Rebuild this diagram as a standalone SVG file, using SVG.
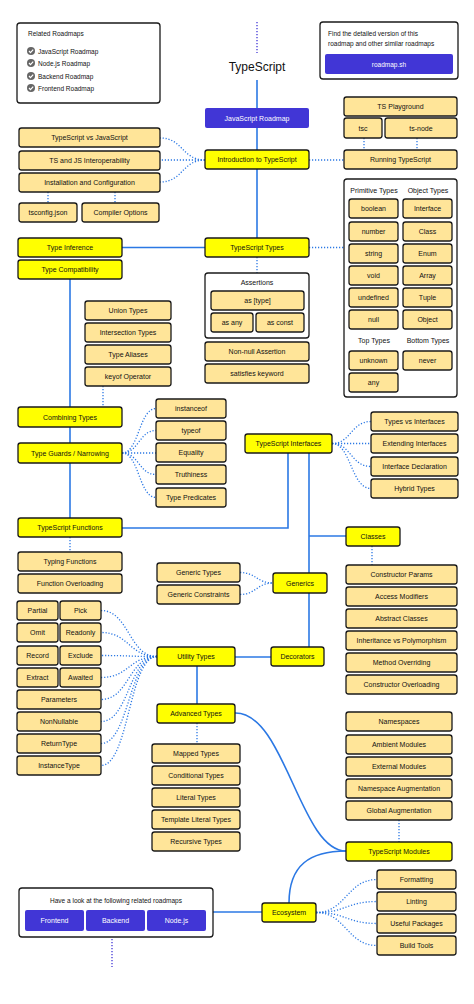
<svg xmlns="http://www.w3.org/2000/svg" width="474" height="1004" viewBox="0 0 474 1004">
<style>
.y{fill:#FFFF00;stroke:#1a1a1a;stroke-width:1.3}
.b{fill:#FFE599;stroke:#1a1a1a;stroke-width:1.3}
.w{fill:#fff;stroke:#1a1a1a;stroke-width:1.3}
.p{fill:#4136D6}
text{font-family:"Liberation Sans",Arial,sans-serif;font-size:7px;fill:#111}
.c{text-anchor:middle;dominant-baseline:central}
.wt{fill:#fff}
.sl{stroke:#2B78E4;stroke-width:1.6;fill:none}
.dl{stroke:#2B78E4;stroke-width:1.3;stroke-dasharray:1.2 1.8;fill:none}
.pd{stroke:#4136D6;stroke-width:1.3;stroke-dasharray:1.2 1.8;fill:none}
</style>
<defs>
<g id="chk"><circle r="4" fill="#666"/><path d="M-2,0 L-0.5,1.6 L2.2,-1.4" stroke="#fff" stroke-width="1.2" fill="none"/></g>
</defs>
<rect width="474" height="1004" fill="#fff"/>

<g id="connectors">
<path class="pd" d="M257,22 V53"/>
<path class="pd" d="M112,939 V967"/>
<path class="sl" d="M257,80 V238"/>
<path class="sl" d="M122,247.5 H205"/>
<path class="sl" d="M70,279 V518"/>
<path class="sl" d="M122,528 H288 V453"/>
<path class="sl" d="M309,453 V647"/>
<path class="sl" d="M309,536 H346"/>
<path class="sl" d="M235,657 H271"/>
<path class="sl" d="M197,666 V704"/>
<path class="sl" d="M235,713 C285,712 300,851 346,851"/>
<path class="sl" d="M289,903 C289,865 310,851 346,851"/>
<path class="sl" d="M213,912 H262"/>
<path class="dl" d="M205,160 C182,160 183,138 160,138"/>
<path class="dl" d="M205,160 H160"/>
<path class="dl" d="M205,160 C182,160 183,182 160,182"/>
<path class="dl" d="M48,192 V203 M115,192 V203"/>
<path class="dl" d="M309,160 H344"/>
<path class="dl" d="M364,138 V150 M417,138 V150"/>
<path class="dl" d="M309,247.5 H344"/>
<path class="dl" d="M257,257 V273"/>
<path class="dl" d="M103,386 V407"/>
<path class="dl" d="M122,453 C139,453 139,408.5 156,408.5"/>
<path class="dl" d="M122,453 C139,453 139,430.5 156,430.5"/>
<path class="dl" d="M122,453 H156"/>
<path class="dl" d="M122,453 C139,453 139,474.5 156,474.5"/>
<path class="dl" d="M122,453 C139,453 139,497.5 156,497.5"/>
<path class="dl" d="M70,537 V552"/>
<path class="dl" d="M332,443.5 C351,443.5 351,421.5 371,421.5"/>
<path class="dl" d="M332,443.5 H371"/>
<path class="dl" d="M332,443.5 C351,443.5 351,466.5 371,466.5"/>
<path class="dl" d="M332,443.5 C351,443.5 351,488.5 371,488.5"/>
<path class="dl" d="M372,546 V565"/>
<path class="dl" d="M240,572.5 C256,572.5 257,583 273,583"/>
<path class="dl" d="M240,594.5 C256,594.5 257,583 273,583"/>
<path class="dl" d="M157,656.5 C129,656.5 129,610.5 101,610.5"/>
<path class="dl" d="M157,656.5 C129,656.5 129,632.5 101,632.5"/>
<path class="dl" d="M157,656.5 C129,656.5 129,655.5 101,655.5"/>
<path class="dl" d="M157,656.5 C129,656.5 129,677.5 101,677.5"/>
<path class="dl" d="M157,656.5 C129,656.5 129,699.5 101,699.5"/>
<path class="dl" d="M157,656.5 C129,656.5 129,721.5 101,721.5"/>
<path class="dl" d="M157,656.5 C129,656.5 129,743.5 101,743.5"/>
<path class="dl" d="M157,656.5 C129,656.5 129,765.5 101,765.5"/>
<path class="dl" d="M197,723 V744"/>
<path class="dl" d="M399,820 V842"/>
<path class="dl" d="M316,912.5 C346,912.5 347,879.5 377,879.5"/>
<path class="dl" d="M316,912.5 C346,912.5 347,901.5 377,901.5"/>
<path class="dl" d="M316,912.5 C346,912.5 347,923.5 377,923.5"/>
<path class="dl" d="M316,912.5 C346,912.5 347,945.5 377,945.5"/>
</g>

<g id="title"><text x="257" y="67" class="c" style="font-size:12px">TypeScript</text></g>

<g id="related">
<rect class="w" x="17" y="23" width="143" height="80" rx="3"/>
<text x="28" y="36" style="font-size:6.5px">Related Roadmaps</text>
<use href="#chk" x="31" y="51"/><text x="38" y="53.5" style="font-size:6.5px">JavaScript Roadmap</text>
<use href="#chk" x="31" y="63"/><text x="38" y="65.5" style="font-size:6.5px">Node.js Roadmap</text>
<use href="#chk" x="31" y="76"/><text x="38" y="78.5" style="font-size:6.5px">Backend Roadmap</text>
<use href="#chk" x="31" y="88"/><text x="38" y="90.5" style="font-size:6.5px">Frontend Roadmap</text>
</g>

<g id="find">
<rect class="w" x="320" y="22" width="138" height="57" rx="3"/>
<text x="328" y="36" style="font-size:6.5px">Find the detailed version of this</text>
<text x="328" y="46" style="font-size:6.5px">roadmap and other similar roadmaps</text>
<rect class="p" x="325" y="54" width="128" height="20" rx="2"/>
<text x="389" y="64" class="c wt" style="font-size:6.5px">roadmap.sh</text>
</g>

<g id="js-roadmap"><rect class="p" x="205" y="108" width="104" height="20" rx="2"/><text x="257" y="118" class="c wt">JavaScript Roadmap</text></g>
<g id="intro"><rect class="y" x="205" y="150" width="104" height="19" rx="2.5"/><text x="257" y="159.5" class="c">Introduction to TypeScript</text></g>
<g id="ts-vs-js"><rect class="b" x="19" y="128" width="141" height="19" rx="2.5"/><text x="89.5" y="137.5" class="c">TypeScript vs JavaScript</text></g>
<g id="interop"><rect class="b" x="19" y="151" width="141" height="19" rx="2.5"/><text x="89.5" y="160.5" class="c">TS and JS Interoperability</text></g>
<g id="install"><rect class="b" x="19" y="173" width="141" height="19" rx="2.5"/><text x="89.5" y="182.5" class="c">Installation and Configuration</text></g>
<g id="tsconfig"><rect class="b" x="19" y="203" width="58" height="19" rx="2.5"/><text x="48" y="212.5" class="c">tsconfig.json</text></g>
<g id="compiler"><rect class="b" x="82" y="203" width="77" height="19" rx="2.5"/><text x="120.5" y="212.5" class="c">Compiler Options</text></g>
<g id="playground"><rect class="b" x="344" y="97" width="113" height="19" rx="2.5"/><text x="400.5" y="106.5" class="c">TS Playground</text></g>
<g id="tsc"><rect class="b" x="344" y="118" width="38" height="20" rx="2.5"/><text x="363" y="128" class="c">tsc</text></g>
<g id="ts-node"><rect class="b" x="385" y="118" width="72" height="20" rx="2.5"/><text x="421" y="128" class="c">ts-node</text></g>
<g id="running"><rect class="b" x="344" y="150" width="113" height="19" rx="2.5"/><text x="400.5" y="159.5" class="c">Running TypeScript</text></g>

<g id="types-box">
<rect class="w" x="344" y="179" width="113" height="218" rx="3"/>
<text x="374" y="190" class="c">Primitive Types</text>
<text x="428" y="190" class="c">Object Types</text>
<text x="374" y="340" class="c">Top Types</text>
<text x="428" y="340" class="c">Bottom Types</text>
</g>
<g id="boolean"><rect class="b" x="349" y="199" width="49" height="19" rx="2.5"/><text x="373.5" y="208.5" class="c">boolean</text></g>
<g id="number"><rect class="b" x="349" y="222" width="49" height="19" rx="2.5"/><text x="373.5" y="231.5" class="c">number</text></g>
<g id="string"><rect class="b" x="349" y="244" width="49" height="19" rx="2.5"/><text x="373.5" y="253.5" class="c">string</text></g>
<g id="void"><rect class="b" x="349" y="266" width="49" height="19" rx="2.5"/><text x="373.5" y="275.5" class="c">void</text></g>
<g id="undefined"><rect class="b" x="349" y="288" width="49" height="19" rx="2.5"/><text x="373.5" y="297.5" class="c">undefined</text></g>
<g id="null"><rect class="b" x="349" y="310" width="49" height="19" rx="2.5"/><text x="373.5" y="319.5" class="c">null</text></g>
<g id="interface"><rect class="b" x="403" y="199" width="49" height="19" rx="2.5"/><text x="427.5" y="208.5" class="c">Interface</text></g>
<g id="class"><rect class="b" x="403" y="222" width="49" height="19" rx="2.5"/><text x="427.5" y="231.5" class="c">Class</text></g>
<g id="enum"><rect class="b" x="403" y="244" width="49" height="19" rx="2.5"/><text x="427.5" y="253.5" class="c">Enum</text></g>
<g id="array"><rect class="b" x="403" y="266" width="49" height="19" rx="2.5"/><text x="427.5" y="275.5" class="c">Array</text></g>
<g id="tuple"><rect class="b" x="403" y="288" width="49" height="19" rx="2.5"/><text x="427.5" y="297.5" class="c">Tuple</text></g>
<g id="object"><rect class="b" x="403" y="310" width="49" height="19" rx="2.5"/><text x="427.5" y="319.5" class="c">Object</text></g>
<g id="unknown"><rect class="b" x="349" y="351" width="49" height="19" rx="2.5"/><text x="373.5" y="360.5" class="c">unknown</text></g>
<g id="never"><rect class="b" x="403" y="351" width="49" height="19" rx="2.5"/><text x="427.5" y="360.5" class="c">never</text></g>
<g id="any"><rect class="b" x="349" y="373" width="49" height="19" rx="2.5"/><text x="373.5" y="382.5" class="c">any</text></g>

<g id="ts-types"><rect class="y" x="205" y="238" width="104" height="19" rx="2.5"/><text x="257" y="247.5" class="c">TypeScript Types</text></g>
<g id="type-inference"><rect class="y" x="18" y="238" width="104" height="19" rx="2.5"/><text x="70" y="247.5" class="c">Type Inference</text></g>
<g id="type-compat"><rect class="y" x="18" y="260" width="104" height="19" rx="2.5"/><text x="70" y="269.5" class="c">Type Compatibility</text></g>

<g id="assertions"><rect class="w" x="205" y="273" width="104" height="65" rx="3"/><text x="257" y="282" class="c">Assertions</text></g>
<g id="as-type"><rect class="b" x="211" y="291" width="93" height="19" rx="2.5"/><text x="257.5" y="300.5" class="c">as [type]</text></g>
<g id="as-any"><rect class="b" x="211" y="313" width="42" height="19" rx="2.5"/><text x="232" y="322.5" class="c">as any</text></g>
<g id="as-const"><rect class="b" x="256" y="313" width="48" height="19" rx="2.5"/><text x="280" y="322.5" class="c">as const</text></g>
<g id="non-null"><rect class="b" x="205" y="342" width="104" height="19" rx="2.5"/><text x="257" y="351.5" class="c">Non-null Assertion</text></g>
<g id="satisfies"><rect class="b" x="205" y="364" width="104" height="19" rx="2.5"/><text x="257" y="373.5" class="c">satisfies keyword</text></g>

<g id="union"><rect class="b" x="85" y="301" width="86" height="19" rx="2.5"/><text x="128" y="310.5" class="c">Union Types</text></g>
<g id="intersection"><rect class="b" x="85" y="323" width="86" height="19" rx="2.5"/><text x="128" y="332.5" class="c">Intersection Types</text></g>
<g id="aliases"><rect class="b" x="85" y="345" width="86" height="19" rx="2.5"/><text x="128" y="354.5" class="c">Type Aliases</text></g>
<g id="keyof"><rect class="b" x="85" y="367" width="86" height="19" rx="2.5"/><text x="128" y="376.5" class="c">keyof Operator</text></g>
<g id="combining"><rect class="y" x="18" y="407" width="104" height="20" rx="2.5"/><text x="70" y="417" class="c">Combining Types</text></g>
<g id="guards"><rect class="y" x="18" y="443" width="104" height="20" rx="2.5"/><text x="70" y="453" class="c">Type Guards / Narrowing</text></g>
<g id="instanceof"><rect class="b" x="156" y="399" width="70" height="19" rx="2.5"/><text x="191" y="408.5" class="c">instanceof</text></g>
<g id="typeof"><rect class="b" x="156" y="421" width="70" height="19" rx="2.5"/><text x="191" y="430.5" class="c">typeof</text></g>
<g id="equality"><rect class="b" x="156" y="443" width="70" height="19" rx="2.5"/><text x="191" y="452.5" class="c">Equality</text></g>
<g id="truthiness"><rect class="b" x="156" y="465" width="70" height="19" rx="2.5"/><text x="191" y="474.5" class="c">Truthiness</text></g>
<g id="predicates"><rect class="b" x="156" y="488" width="70" height="19" rx="2.5"/><text x="191" y="497.5" class="c">Type Predicates</text></g>
<g id="ts-functions"><rect class="y" x="18" y="518" width="104" height="19" rx="2.5"/><text x="70" y="527.5" class="c">TypeScript Functions</text></g>
<g id="typing-functions"><rect class="b" x="18" y="552" width="104" height="19" rx="2.5"/><text x="70" y="561.5" class="c">Typing Functions</text></g>
<g id="fn-overloading"><rect class="b" x="18" y="574" width="104" height="19" rx="2.5"/><text x="70" y="583.5" class="c">Function Overloading</text></g>

<g id="ts-interfaces"><rect class="y" x="245" y="434" width="87" height="19" rx="2.5"/><text x="288.5" y="443.5" class="c">TypeScript Interfaces</text></g>
<g id="types-vs-interfaces"><rect class="b" x="371" y="412" width="87" height="19" rx="2.5"/><text x="414.5" y="421.5" class="c">Types vs Interfaces</text></g>
<g id="extending"><rect class="b" x="371" y="434" width="87" height="19" rx="2.5"/><text x="414.5" y="443.5" class="c">Extending Interfaces</text></g>
<g id="declaration"><rect class="b" x="371" y="457" width="87" height="19" rx="2.5"/><text x="414.5" y="466.5" class="c">Interface Declaration</text></g>
<g id="hybrid"><rect class="b" x="371" y="479" width="87" height="19" rx="2.5"/><text x="414.5" y="488.5" class="c">Hybrid Types</text></g>

<g id="classes"><rect class="y" x="346" y="527" width="54" height="19" rx="2.5"/><text x="373" y="536.5" class="c">Classes</text></g>
<g id="ctor-params"><rect class="b" x="346" y="565" width="111" height="19" rx="2.5"/><text x="401.5" y="574.5" class="c">Constructor Params</text></g>
<g id="access"><rect class="b" x="346" y="587" width="111" height="19" rx="2.5"/><text x="401.5" y="596.5" class="c">Access Modifiers</text></g>
<g id="abstract"><rect class="b" x="346" y="609" width="111" height="19" rx="2.5"/><text x="401.5" y="618.5" class="c">Abstract Classes</text></g>
<g id="inheritance"><rect class="b" x="346" y="631" width="111" height="19" rx="2.5"/><text x="401.5" y="640.5" class="c">Inheritance vs Polymorphism</text></g>
<g id="overriding"><rect class="b" x="346" y="653" width="111" height="19" rx="2.5"/><text x="401.5" y="662.5" class="c">Method Overriding</text></g>
<g id="ctor-overloading"><rect class="b" x="346" y="675" width="111" height="19" rx="2.5"/><text x="401.5" y="684.5" class="c">Constructor Overloading</text></g>

<g id="generic-types"><rect class="b" x="157" y="563" width="83" height="19" rx="2.5"/><text x="198.5" y="572.5" class="c">Generic Types</text></g>
<g id="generic-constraints"><rect class="b" x="157" y="585" width="83" height="19" rx="2.5"/><text x="198.5" y="594.5" class="c">Generic Constraints</text></g>
<g id="generics"><rect class="y" x="273" y="573" width="54" height="20" rx="2.5"/><text x="300" y="583" class="c">Generics</text></g>
<g id="utility"><rect class="y" x="157" y="647" width="78" height="19" rx="2.5"/><text x="196" y="656.5" class="c">Utility Types</text></g>
<g id="decorators"><rect class="y" x="271" y="647" width="53" height="19" rx="2.5"/><text x="297.5" y="656.5" class="c">Decorators</text></g>

<g id="partial"><rect class="b" x="17" y="601" width="41" height="19" rx="2.5"/><text x="37.5" y="610.5" class="c">Partial</text></g>
<g id="pick"><rect class="b" x="60" y="601" width="41" height="19" rx="2.5"/><text x="80.5" y="610.5" class="c">Pick</text></g>
<g id="omit"><rect class="b" x="17" y="623" width="41" height="19" rx="2.5"/><text x="37.5" y="632.5" class="c">Omit</text></g>
<g id="readonly"><rect class="b" x="60" y="623" width="41" height="19" rx="2.5"/><text x="80.5" y="632.5" class="c">Readonly</text></g>
<g id="record"><rect class="b" x="17" y="646" width="41" height="19" rx="2.5"/><text x="37.5" y="655.5" class="c">Record</text></g>
<g id="exclude"><rect class="b" x="60" y="646" width="41" height="19" rx="2.5"/><text x="80.5" y="655.5" class="c">Exclude</text></g>
<g id="extract"><rect class="b" x="17" y="668" width="41" height="19" rx="2.5"/><text x="37.5" y="677.5" class="c">Extract</text></g>
<g id="awaited"><rect class="b" x="60" y="668" width="41" height="19" rx="2.5"/><text x="80.5" y="677.5" class="c">Awaited</text></g>
<g id="parameters"><rect class="b" x="17" y="690" width="84" height="19" rx="2.5"/><text x="59" y="699.5" class="c">Parameters</text></g>
<g id="nonnullable"><rect class="b" x="17" y="712" width="84" height="19" rx="2.5"/><text x="59" y="721.5" class="c">NonNullable</text></g>
<g id="returntype"><rect class="b" x="17" y="734" width="84" height="19" rx="2.5"/><text x="59" y="743.5" class="c">ReturnType</text></g>
<g id="instancetype"><rect class="b" x="17" y="756" width="84" height="19" rx="2.5"/><text x="59" y="765.5" class="c">InstanceType</text></g>

<g id="advanced"><rect class="y" x="157" y="704" width="78" height="19" rx="2.5"/><text x="196" y="713.5" class="c">Advanced Types</text></g>
<g id="mapped"><rect class="b" x="152" y="744" width="88" height="19" rx="2.5"/><text x="196" y="753.5" class="c">Mapped Types</text></g>
<g id="conditional"><rect class="b" x="152" y="766" width="88" height="19" rx="2.5"/><text x="196" y="775.5" class="c">Conditional Types</text></g>
<g id="literal"><rect class="b" x="152" y="788" width="88" height="19" rx="2.5"/><text x="196" y="797.5" class="c">Literal Types</text></g>
<g id="template-literal"><rect class="b" x="152" y="810" width="88" height="19" rx="2.5"/><text x="196" y="819.5" class="c">Template Literal Types</text></g>
<g id="recursive"><rect class="b" x="152" y="832" width="88" height="19" rx="2.5"/><text x="196" y="841.5" class="c">Recursive Types</text></g>

<g id="namespaces"><rect class="b" x="346" y="712" width="106" height="19" rx="2.5"/><text x="399" y="721.5" class="c">Namespaces</text></g>
<g id="ambient"><rect class="b" x="346" y="735" width="106" height="19" rx="2.5"/><text x="399" y="744.5" class="c">Ambient Modules</text></g>
<g id="external"><rect class="b" x="346" y="757" width="106" height="19" rx="2.5"/><text x="399" y="766.5" class="c">External Modules</text></g>
<g id="ns-augmentation"><rect class="b" x="346" y="779" width="106" height="19" rx="2.5"/><text x="399" y="788.5" class="c">Namespace Augmentation</text></g>
<g id="global-augmentation"><rect class="b" x="346" y="801" width="106" height="19" rx="2.5"/><text x="399" y="810.5" class="c">Global Augmentation</text></g>
<g id="ts-modules"><rect class="y" x="346" y="842" width="106" height="19" rx="2.5"/><text x="399" y="851.5" class="c">TypeScript Modules</text></g>

<g id="ecosystem"><rect class="y" x="262" y="903" width="54" height="19" rx="2.5"/><text x="289" y="912.5" class="c">Ecosystem</text></g>
<g id="formatting"><rect class="b" x="377" y="870" width="79" height="19" rx="2.5"/><text x="416.5" y="879.5" class="c">Formatting</text></g>
<g id="linting"><rect class="b" x="377" y="892" width="79" height="19" rx="2.5"/><text x="416.5" y="901.5" class="c">Linting</text></g>
<g id="packages"><rect class="b" x="377" y="914" width="79" height="19" rx="2.5"/><text x="416.5" y="923.5" class="c">Useful Packages</text></g>
<g id="build-tools"><rect class="b" x="377" y="936" width="79" height="19" rx="2.5"/><text x="416.5" y="945.5" class="c">Build Tools</text></g>

<g id="related-bottom">
<rect class="w" x="19" y="888" width="194" height="49" rx="3"/>
<text x="116" y="900" class="c" style="font-size:6.5px">Have a look at the following related roadmaps</text>
<rect class="p" x="25" y="910" width="59" height="21" rx="2"/><text x="54.5" y="920.5" class="c wt">Frontend</text>
<rect class="p" x="86" y="910" width="59" height="21" rx="2"/><text x="115.5" y="920.5" class="c wt">Backend</text>
<rect class="p" x="147" y="910" width="59" height="21" rx="2"/><text x="176.5" y="920.5" class="c wt">Node.js</text>
</g>
</svg>
